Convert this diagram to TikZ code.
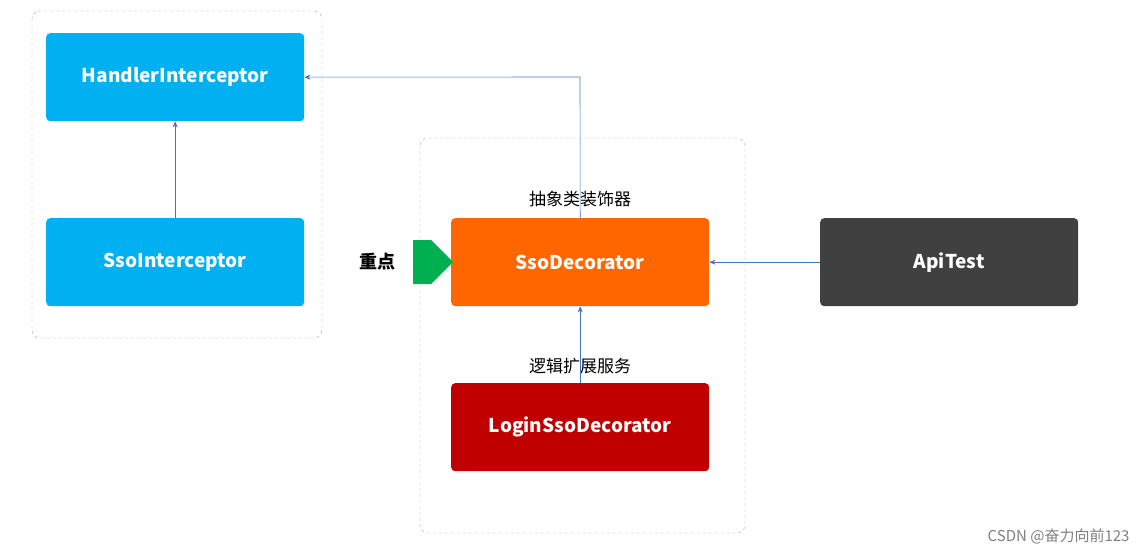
\documentclass[tikz,border=0pt]{standalone}
\usepackage{fontspec}
\setmainfont{Noto Sans CJK SC}
\usetikzlibrary{arrows.meta,shapes.arrows}
\begin{document}
\begin{tikzpicture}[x=1pt,y=-1pt,
 box/.style={draw=none,rounded corners=4pt,minimum width=258pt,minimum height=88pt,text=white,font=\fontsize{19}{22}\selectfont\bfseries,anchor=north west,inner sep=0pt},
 grp/.style={draw=gray!70,dashed,rounded corners=8pt},
 con/.style={draw={rgb,255:red,68;green,114;blue,196},line width=0.6pt,-{Stealth[length=6pt,width=5pt]}},
 lab/.style={font=\fontsize{17}{20}\selectfont}]
\useasboundingbox (0,0) rectangle (1147,554);
\fill[white] (0,0) rectangle (1147,554);
\draw[grp] (32,11) rectangle (322,338);
\draw[grp] (420,138) rectangle (745,533);
\node[box,fill={rgb,255:red,0;green,176;blue,240}] (h) at (46,33) {HandlerInterceptor};
\node[box,fill={rgb,255:red,0;green,176;blue,240}] (s) at (46,218) {SsoInterceptor};
\node[box,fill={rgb,255:red,255;green,102;blue,0}] (d) at (451,218) {SsoDecorator};
\node[box,fill={rgb,255:red,192;green,0;blue,0}] (l) at (451,383) {LoginSsoDecorator};
\node[box,fill={rgb,255:red,64;green,64;blue,64}] (a) at (820,218) {ApiTest};
\node[lab] (t1) at (580,199) {抽象类装饰器};
\node[lab] (t2) at (580,366) {逻辑扩展服务};
\node[font=\fontsize{18}{20}\selectfont\bfseries] (z) at (377,262) {重点};
\node[single arrow,fill={rgb,255:red,0;green,176;blue,80},minimum height=40pt,minimum width=44pt,single arrow head extend=0pt,inner sep=0pt,single arrow tip angle=90] (g) at (422,262) {};
\draw[con] (s.north) -- (h.south);
\draw[con] (d.north) -- (580,77) -- (h.east);
\draw[con] (a.west) -- (d.east);
\draw[con] (l.north) -- (d.south);
\node[font=\fontsize{15}{18}\selectfont,text=gray,anchor=east] (w) at (1133,536) {CSDN @奋力向前123};
\end{tikzpicture}
\end{document}
